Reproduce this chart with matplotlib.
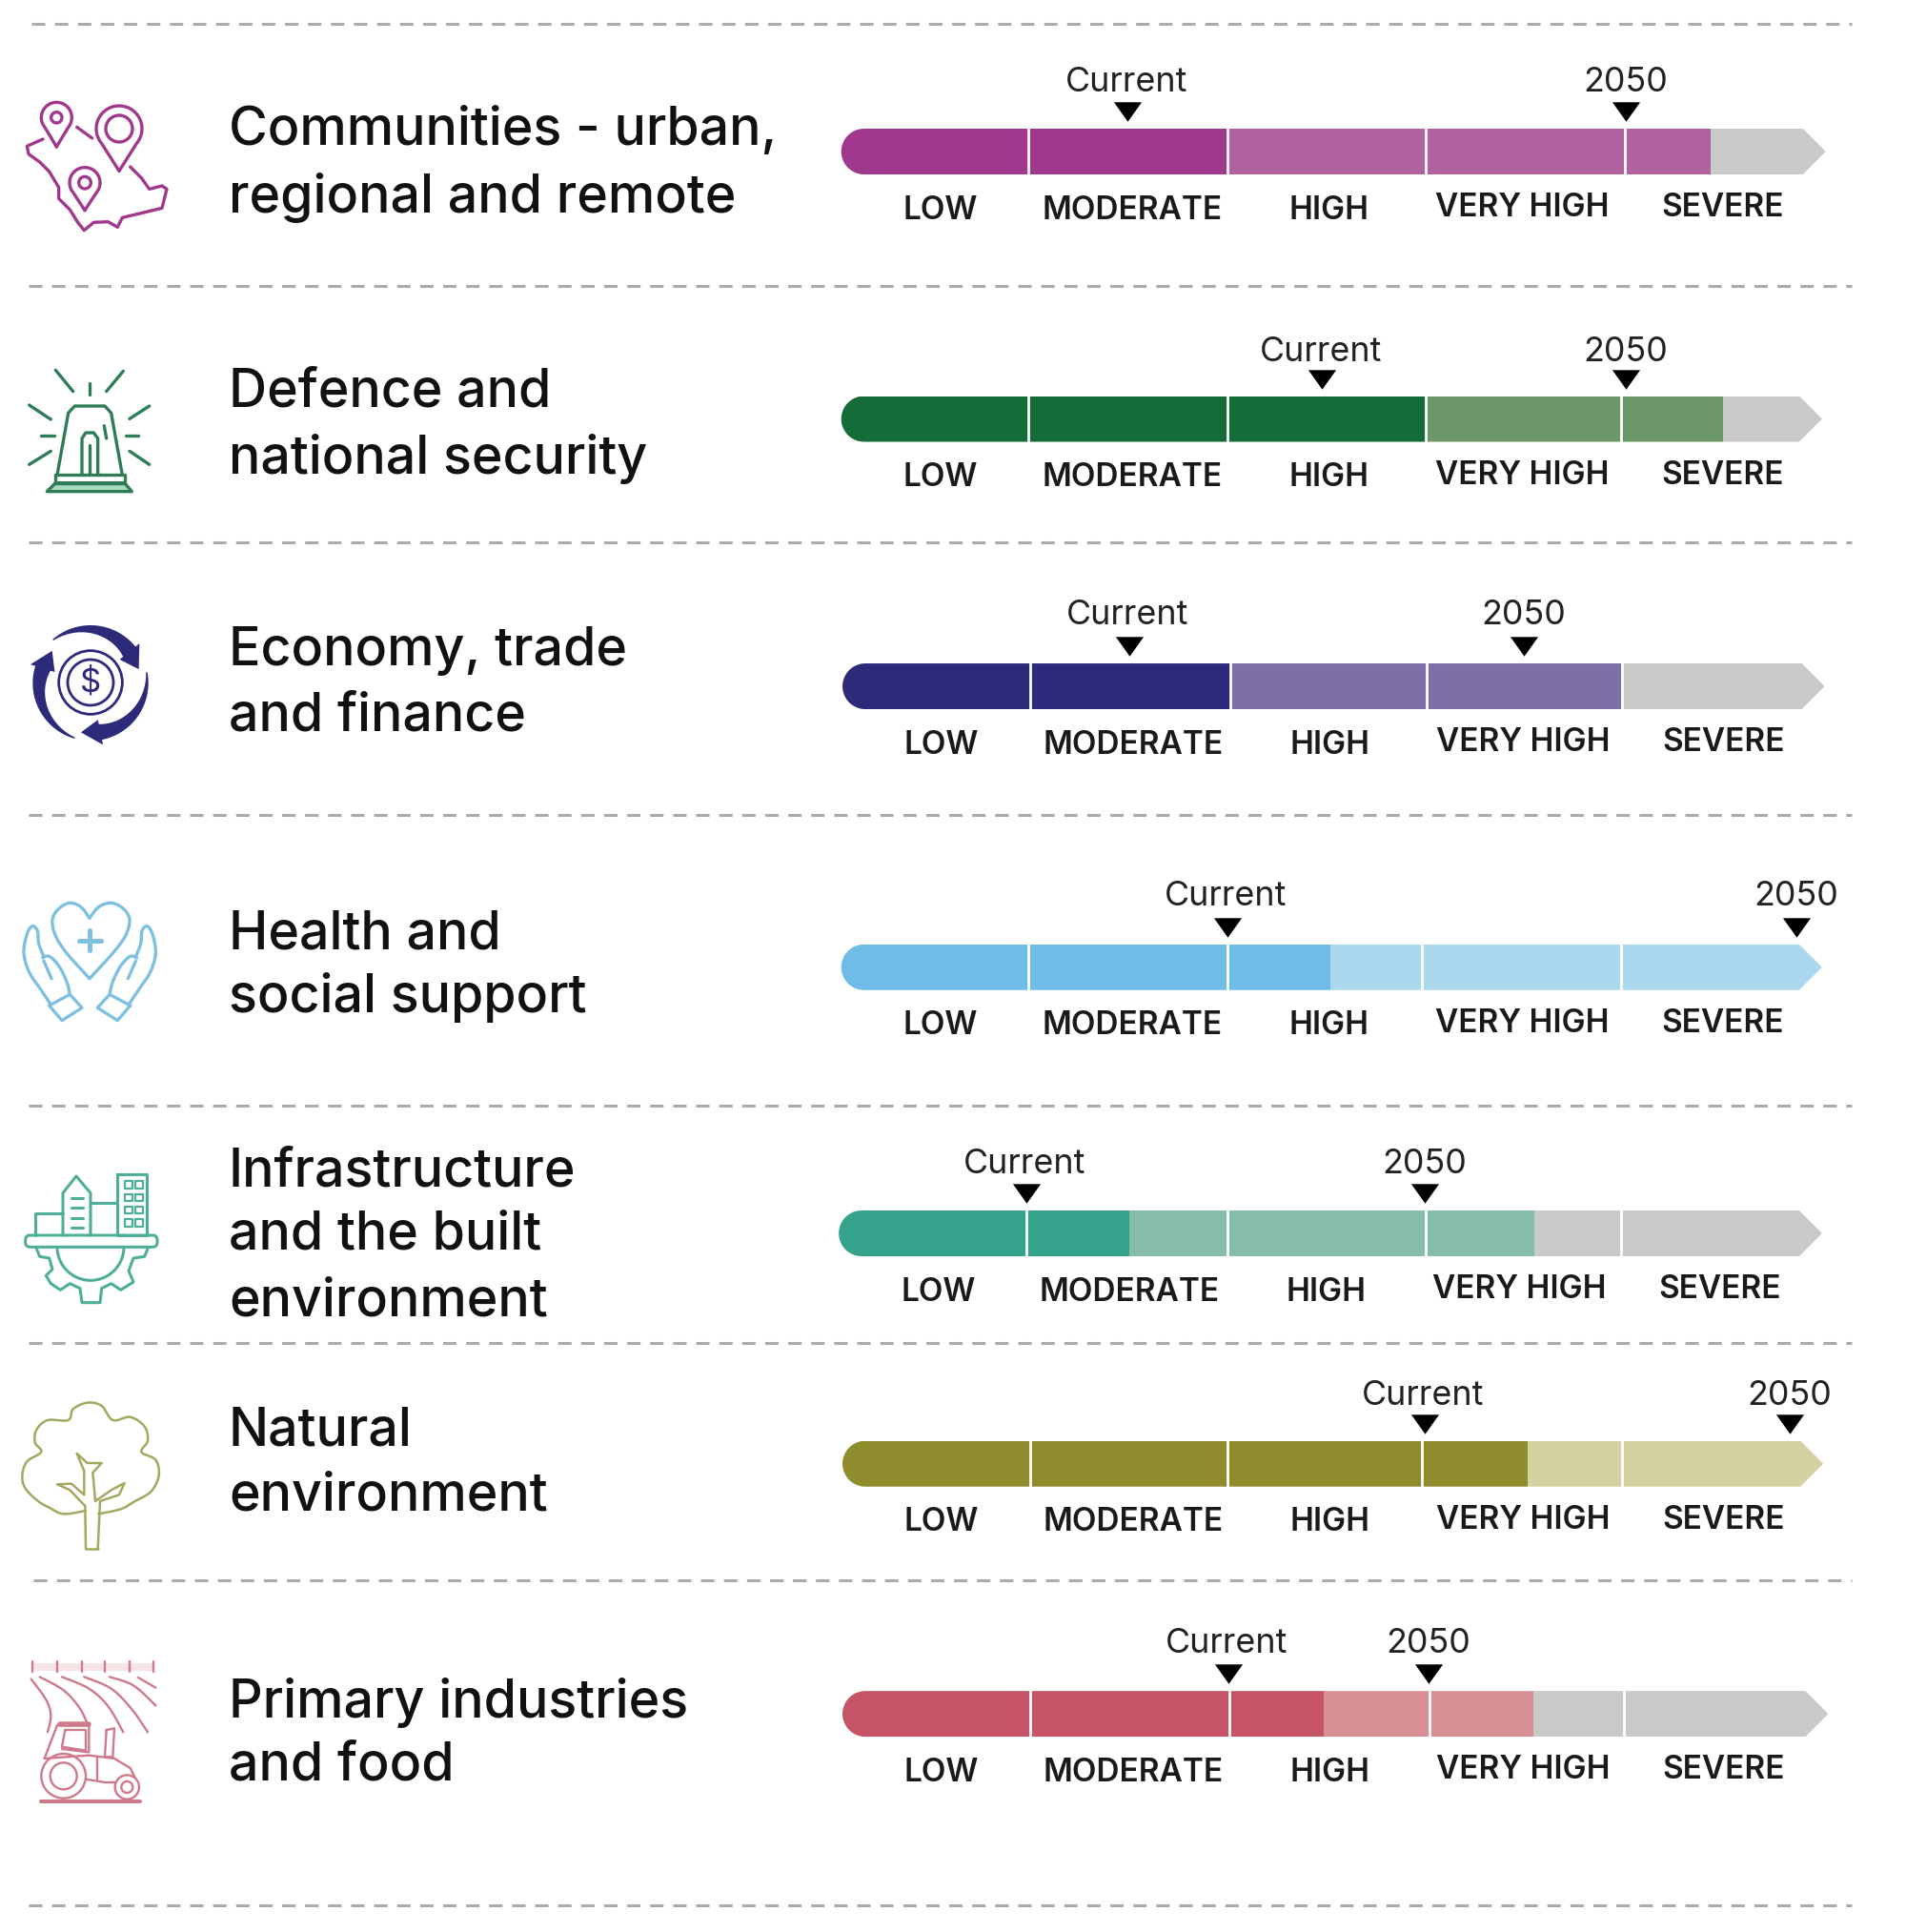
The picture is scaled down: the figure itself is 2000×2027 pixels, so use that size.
import numpy as np
import matplotlib
matplotlib.use("Agg")
import matplotlib.pyplot as plt
from matplotlib.path import Path
from matplotlib.patches import Circle, Polygon, Rectangle, FancyBboxPatch

plt.rcParams['font.family'] = ['Inter', 'DejaVu Sans']

# chart data: positions on the 0-5 risk scale
sectors = [
    ["Communities - urban,", "regional and remote"],
    ["Defence and", "national security"],
    ["Economy, trade", "and finance"],
    ["Health and", "social support"],
    ["Infrastructure", "and the built", "environment"],
    ["Natural", "environment"],
    ["Primary industries", "and food"],
]
levels = ["LOW", "MODERATE", "HIGH", "VERY HIGH", "SEVERE"]
current = [1.50, 2.48, 1.50, 2.00, 1.00, 2.99, 2.00]
year_2050 = [4.01, 4.01, 3.49, 4.87, 3.01, 4.83, 3.01]
current_fill = [2.00, 3.00, 2.01, 2.52, 1.52, 3.51, 2.48]
future_fill = [4.44, 4.50, 3.98, 5.00, 3.56, 5.00, 3.54]

dark_colors = ["#a0398d", "#146c38", "#2e2a7a", "#6fbde6", "#35a28c", "#8f8c2e", "#c55466"]
light_colors = ["#b0619f", "#6b976b", "#7d6fa8", "#acd8ef", "#86bdaa", "#d4d2a0", "#d98f96"]
grey = "#c8c9c9"

# layout, in reference pixels
W, H = 2000, 2027
DISPLAY = 1.2927
bar_centers = np.array([123, 340, 557, 785, 1001, 1188, 1391]) * DISPLAY
bar_lefts = np.array([674, 674, 675, 674, 672, 675, 675]) * DISPLAY
bar_tips = np.array([1482, 1479, 1481, 1479, 1479, 1480, 1484]) * DISPLAY
dividers = [
    [835, 996, 1157, 1319],
    [835, 996, 1157, 1316],
    [836, 999, 1158, 1317],
    [835, 996, 1154, 1316],
    [833, 996, 1157, 1316],
    [836, 996, 1154, 1317],
    [836, 998, 1160, 1318],
]
unit = 161 * DISPLAY
bar_h = 48
title_lines = [[102, 156], [314, 368], [524, 577], [754, 805], [947, 998, 1052], [1157, 1210], [1378, 1429]]
tag_dy = [59, 57, 60, 60, 59, 58, 60]
rule_ys = [25, 300, 569, 855, 1160, 1409, 1658, 1999]
rule_lefts = [33, 30, 30, 30, 30, 30, 35, 30]
label_pos = [0.555, 1.522, 2.512, 3.488, 4.498]
label_dy = [45, 45, 45, 43, 43]

fig = plt.figure(figsize=(W / 100, H / 100), dpi=100)
ax = fig.add_axes([0, 0, 1, 1])
ax.set_xlim(0, W)
ax.set_ylim(H, 0)
ax.axis("off")

# dashed separators
for y, x0 in zip(rule_ys, rule_lefts):
    ax.plot([x0, 1943], [y, y], color="#ababab", lw=2.2, dashes=(4.6, 3.3), dash_capstyle="butt")


def smooth(pts, n=8, closed=False):
    # catmull-rom through the icon outline points
    pts = np.array(pts, dtype=float)
    if closed:
        p = np.vstack([pts[-1], pts, pts[0], pts[1]])
    else:
        p = np.vstack([pts[0], pts, pts[-1]])
    out = []
    for i in range(1, len(p) - 2):
        for t in np.linspace(0, 1, n, endpoint=False):
            out.append(0.5 * (2 * p[i] + (p[i + 1] - p[i - 1]) * t
                              + (2 * p[i - 1] - 5 * p[i] + 4 * p[i + 1] - p[i + 2]) * t ** 2
                              + (3 * p[i] - p[i - 1] - 3 * p[i + 1] + p[i + 2]) * t ** 3))
    out.append(p[-2])
    return np.array(out)


class Icon:
    # icon outlines are written in a 540 box placed at origin
    def __init__(self, ox, oy, color, lw=2.0):
        self.ox, self.oy, self.color, self.lw = ox, oy, color, lw

    def xy(self, pts):
        pts = np.asarray(pts, dtype=float)
        return pts[:, 0] / 3 + self.ox, pts[:, 1] / 3 + self.oy

    def line(self, pts, curved=False, closed=False, lw=None, color=None):
        if curved:
            pts = smooth(pts, closed=closed)
        elif closed:
            pts = list(pts) + [pts[0]]
        x, y = self.xy(pts)
        ax.plot(x, y, color=color or self.color, lw=lw or self.lw, solid_capstyle="round", solid_joinstyle="round")

    def fill(self, pts, color=None):
        x, y = self.xy(pts)
        ax.add_patch(Polygon(np.c_[x, y], closed=True, fc=color or self.color, ec="none"))

    def circle(self, cx, cy, r, lw=None):
        ax.add_patch(Circle((cx / 3 + self.ox, cy / 3 + self.oy), r / 3, fc="none", ec=self.color, lw=lw or self.lw))

    def pin(self, cx, cy, r, tip):
        a = np.radians(np.linspace(-40, 220, 40))
        pts = np.c_[cx + r * np.cos(a), cy - r * np.sin(a)]
        self.line(np.vstack([[cx, tip], pts, [cx, tip]]))


# communities
ic = Icon(10, 90, "#a0398d", 2.4)
ic.pin(148, 100, 48, 192)
ic.circle(148, 100, 17)
ic.pin(345, 135, 72, 268)
ic.circle(345, 135, 42)
ic.pin(237, 305, 48, 392)
ic.circle(237, 305, 19)
ic.line([(105, 168), (55, 190), (60, 215), (95, 240), (125, 270), (155, 320), (155, 355), (190, 390), (215, 430),
         (235, 455), (265, 430), (310, 428), (340, 445), (355, 415), (480, 385), (495, 325), (480, 315), (440, 325),
         (415, 290), (380, 255)])
ic.line([(212, 130), (260, 165)])

# defence
ic = Icon(10, 370, "#2f7d57", 2.4)
for seg in [[(145, 55), (200, 122)], [(252, 95), (252, 132)], [(358, 58), (305, 122)], [(62, 165), (130, 210)],
            [(440, 168), (378, 208)], [(100, 260), (140, 260)], [(365, 260), (405, 260)], [(62, 352), (130, 310)],
            [(440, 352), (378, 310)], [(298, 230), (305, 270)], [(252, 290), (252, 385)]]:
    ic.line(seg)
ic.line([(150, 385), (185, 190), (205, 168), (300, 168), (320, 190), (355, 385)])
ic.line([(228, 385), (228, 270), (240, 252), (265, 252), (278, 270), (278, 385)])
ic.fill([(145, 410), (362, 410), (385, 437), (118, 437)], "#a5dabd")
ic.line([(145, 410), (362, 410), (385, 437), (118, 437)], closed=True)
ic.line([(145, 385), (362, 385), (362, 410), (145, 410)], closed=True)

# economy
ic = Icon(10, 640, "#2e2a7a", 2.0)
ic.circle(255, 228, 100)
ic.circle(255, 228, 72)
ax.text(255 / 3 + 10, 228 / 3 + 640, "$", fontsize=25, color="#2e2a7a", ha="center", va="center")


def arc_arrow(a0, a1):
    ang = np.radians(np.linspace(a0, a0 + (a1 - a0) * 0.8, 30))
    inner = np.linspace(178, 132, 30)
    outer = np.full(30, 182.0)
    end = np.radians(a1)
    cx, cy = 255, 230
    pts = [(cx + r * np.cos(a), cy - r * np.sin(a)) for a, r in zip(ang, outer)]
    pts.append((cx + 198 * np.cos(ang[-1]), cy - 198 * np.sin(ang[-1])))
    pts.append((cx + 158 * np.cos(end), cy - 158 * np.sin(end)))
    pts.append((cx + 118 * np.cos(ang[-1]), cy - 118 * np.sin(ang[-1])))
    pts += [(cx + r * np.cos(a), cy - r * np.sin(a)) for a, r in zip(ang[::-1], inner[::-1])]
    ic.fill(pts)


arc_arrow(131, 16)
arc_arrow(11, -101)
arc_arrow(-106, -220)

# health
ic = Icon(10, 930, "#7fc0e0", 2.4)
ic.line([(252, 100), (225, 65), (190, 52), (155, 70), (135, 105), (145, 155), (180, 210), (252, 290)], curved=True)
ic.line([(252, 100), (280, 65), (320, 52), (358, 70), (378, 105), (365, 155), (325, 210), (252, 290)], curved=True)
ic.line([(252, 138), (252, 202)], lw=3.6)
ic.line([(218, 170), (288, 170)], lw=3.6)
for sx in (lambda v: v, lambda v: 505 - v):
    ic.line([(sx(125), 375), (sx(190), 340), (sx(228), 382), (sx(165), 422)], closed=True)
    ic.line([(sx(130), 372), (sx(95), 320), (sx(62), 270), (sx(45), 210), (sx(55), 150), (sx(72), 125), (sx(88), 140),
             (sx(92), 180), (sx(108), 222)], curved=True)
    ic.line([(sx(104), 225), (sx(125), 220), (sx(155), 250), (sx(180), 300), (sx(190), 340)], curved=True)
    ic.line([(sx(108), 235), (sx(132), 290)])

# infrastructure
ic = Icon(10, 1210, "#4fae98", 2.2)
ax.add_patch(FancyBboxPatch((50 / 3 + 10, 258 / 3 + 1210), 415 / 3, 37 / 3,
                            boxstyle="round,pad=0,rounding_size=5", fc="none", ec=ic.color, lw=ic.lw))
ic.line([(168, 258), (168, 125), (210, 72), (255, 125), (255, 258)])
ic.line([(168, 190), (80, 190), (80, 258)])
ic.line([(255, 155), (340, 155)])
ic.line([(340, 65), (432, 65), (432, 258), (340, 258)], closed=True)
for y in [140, 172, 203, 235]:
    ic.line([(195, y), (230, y)])
for y in [88, 128, 168, 208]:
    for x in [362, 395]:
        ic.line([(x, y), (x + 25, y), (x + 25, y + 22), (x, y + 22)], closed=True, lw=1.6)
ic.line([(85, 300), (95, 325), (125, 330), (135, 365), (115, 385), (130, 410), (160, 430), (190, 410), (222, 425),
         (228, 470), (285, 470), (290, 425), (320, 410), (350, 430), (390, 405), (375, 370), (390, 330), (425, 325),
         (435, 300)])
a = np.radians(np.linspace(180, 360, 40))
ic.line(np.c_[255 + 105 * np.cos(a), 295 - 105 * np.sin(a)])

# natural
ic = Icon(10, 1460, "#a4a860", 1.8)
ic.line([(240, 375), (170, 385), (125, 365), (90, 345), (50, 305), (40, 265), (55, 220), (100, 190), (80, 160),
         (85, 120), (120, 90), (185, 90), (200, 55), (245, 35), (290, 45), (325, 90), (380, 80), (425, 110), (435, 155),
         (415, 190), (460, 215), (470, 265), (445, 315), (395, 345), (350, 370), (280, 385)], curved=True)
ic.line([(240, 495), (238, 360), (190, 310), (150, 292), (195, 290), (235, 325), (235, 250), (212, 195), (245, 225),
         (290, 225), (262, 255), (270, 345), (320, 310), (362, 288), (345, 325), (285, 345), (278, 495)])
ic.line([(240, 495), (278, 495)])

# primary
ic = Icon(10, 1730, "#cf7a8a", 1.7)
ax.add_patch(Rectangle((72 / 3 + 10, 45 / 3 + 1730), 380 / 3, 25 / 3, fc="#f6e4e7", ec="none"))
for x in [72, 150, 228, 300, 378, 452]:
    ic.line([(x, 40), (x, 72)])
ic.line([(68, 95), (115, 160), (130, 210), (120, 262)], curved=True)
ic.line([(95, 88), (170, 130), (220, 185), (245, 235)], curved=True)
ic.line([(165, 88), (250, 125), (310, 180), (358, 262)], curved=True)
ic.line([(235, 88), (320, 125), (385, 190), (435, 262)], curved=True)
ic.line([(315, 88), (390, 115), (460, 178)], curved=True)
ic.line([(405, 90), (460, 122)])
ic.circle(170, 400, 70)
ic.circle(170, 400, 42)
ic.circle(370, 435, 38)
ic.circle(370, 435, 18)
ic.line([(100, 480), (410, 480)], lw=3)
ic.line([(110, 345), (150, 240), (250, 240), (250, 325), (165, 315)])
ic.line([(160, 238), (250, 238)], lw=4)
ic.line([(250, 335), (330, 345), (380, 375), (395, 405)])
ic.line([(240, 410), (300, 420), (335, 420)])
ic.line([(305, 255), (330, 250), (325, 340), (300, 340)], closed=True)
ic.line([(175, 255), (240, 255), (240, 320), (165, 308)], closed=True)
ic.line([(110, 345), (250, 335)])
ic.line([(275, 340), (275, 410)])

# bar shape in scale units, rounded at the left and pointed at the right
BAR_START = 0.055
CAP = 0.115
TIP = 0.115
triangle = [(-1, 0.7), (1, 0.7), (0, -0.7)]
arc = np.radians(np.linspace(90, 270, 30))

for i in range(len(sectors)):
    # titles
    for text, y in zip(sectors[i], title_lines[i]):
        ax.text(240, y * DISPLAY, text, fontsize=40, fontweight=500, color="#111111", ha="left", va="center_baseline")

    left = bar_lefts[i]
    right = bar_tips[i]
    end = (right - left) / unit
    bx = fig.add_axes([left / W, 1 - (bar_centers[i] + bar_h / 2) / H, (right - left) / W, bar_h / H])
    bx.set_xlim(0, end)
    bx.set_ylim(0, 1)
    bx.axis("off")

    shape = [(BAR_START + CAP + CAP * np.cos(t), 0.5 + 0.5 * np.sin(t)) for t in arc]
    shape += [(end - TIP, 0), (end, 0.5), (end - TIP, 1)]
    bar_shape = Path(shape + [shape[0]], closed=True)

    future = end if future_fill[i] >= 5 else future_fill[i]
    lefts = [0, current_fill[i], future]
    widths = [current_fill[i], future - current_fill[i], end - future]
    bars = bx.barh([0.5] * 3, widths, left=lefts, height=1, color=[dark_colors[i], light_colors[i], grey])
    for b in bars:
        b.set_clip_path(bar_shape, bx.transData)
    for d in dividers[i]:
        bx.axvline((d * DISPLAY - left) / unit, color="white", lw=2.0)

    # markers above, labels below the bar
    bx.plot([current[i], year_2050[i]], [0.5 + 32.5 * DISPLAY / bar_h] * 2, ls="none", marker=triangle, ms=21,
            color="black", mew=0, clip_on=False)
    for name, v, shift in [("Current", current[i], -0.008), ("2050", year_2050[i], -0.002)]:
        bx.text(v + shift, 0.5 + tag_dy[i] * DISPLAY / bar_h, name, fontsize=25.8, color="#222222",
                ha="center", va="center_baseline", clip_on=False)
    for name, p, dy in zip(levels, label_pos, label_dy):
        bx.text(p, 0.5 - dy * DISPLAY / bar_h, name, fontsize=24, fontweight=600, color="#1a1a1a",
                ha="center", va="center_baseline", clip_on=False)

fig.savefig("out.png", dpi=100)
